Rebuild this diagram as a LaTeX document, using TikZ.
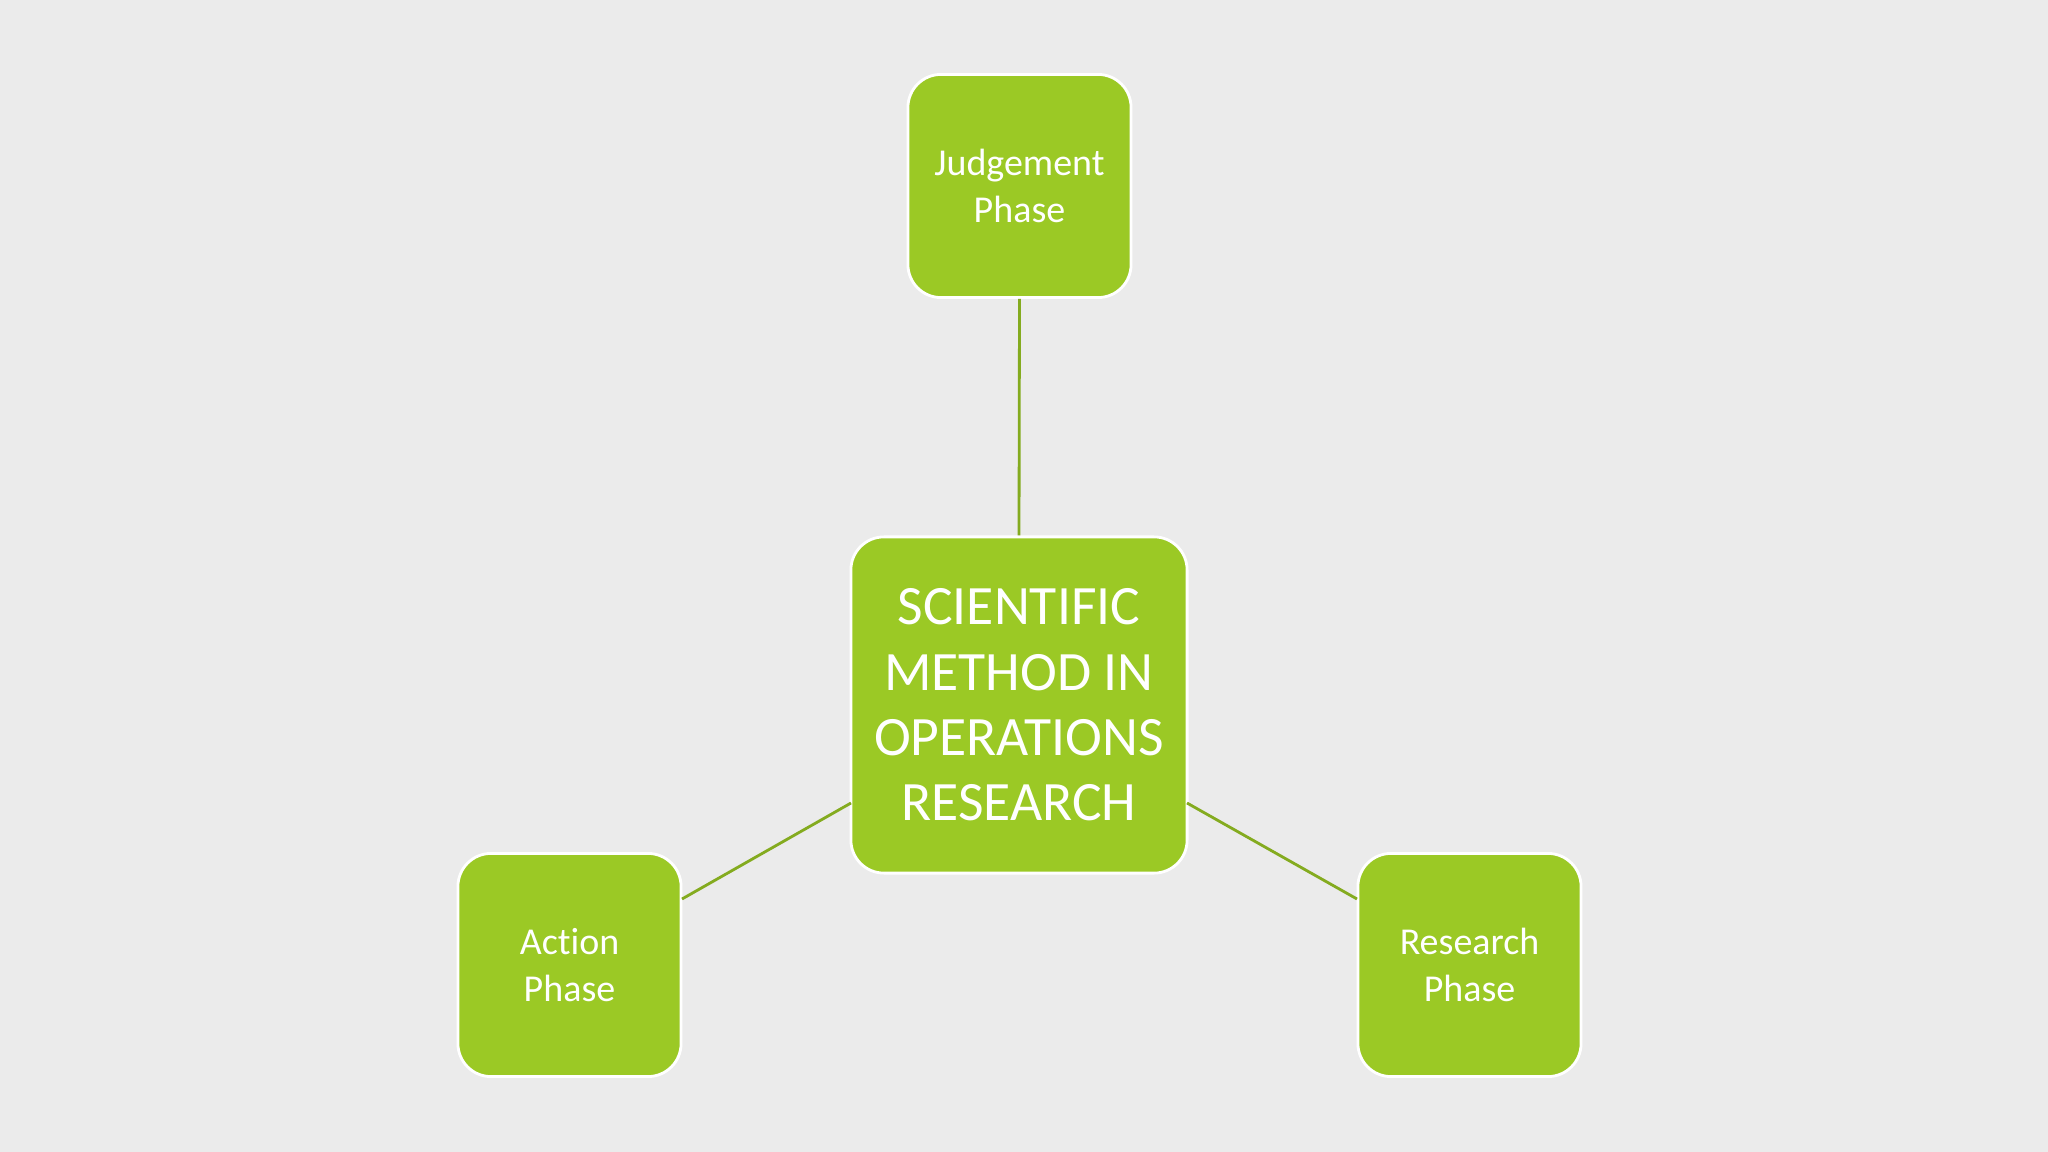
\documentclass[tikz,border=0pt]{standalone}
\usepackage{fontspec}
\setmainfont{Carlito}[Ligatures=NoCommon]
\definecolor{grn}{HTML}{9BC925}
\definecolor{bg}{HTML}{EBEBEB}
\begin{document}
\begin{tikzpicture}[x=0.01cm,y=-0.01cm,
  box/.style={fill=grn,draw=white,line width=0.8pt,rounded corners=0.33cm,text=white,align=center,inner sep=0pt},
  small/.style={box,minimum width=2.23cm,minimum height=2.23cm,font=\fontsize{10.8}{13.4}\selectfont},
  conn/.style={draw=grn!85!black,line width=0.8pt}]
\fill[bg] (0,0) rectangle (2048,1152);
\useasboundingbox (0,0) rectangle (2048,1152);
\node[box,minimum width=3.36cm,minimum height=3.36cm,font=\fontsize{15.8}{18.6}\selectfont] (c) at (1019,705) {SCIENTIFIC\\METHOD IN\\OPERATIONS\\RESEARCH};
\node[small] (j) at (1019.5,186) {Judgement\\Phase};
\node[small] (a) at (569.5,965) {Action\\Phase};
\node[small] (r) at (1469.5,965) {Research\\Phase};
\coordinate (cl) at (851,803);
\coordinate (cr) at (1187,803);
\coordinate (al) at (682,899);
\coordinate (rl) at (1357,899);
\draw[conn] (j.south) -- (c.north);
\draw[conn] (cl) -- (al);
\draw[conn] (cr) -- (rl);
\end{tikzpicture}
\end{document}
